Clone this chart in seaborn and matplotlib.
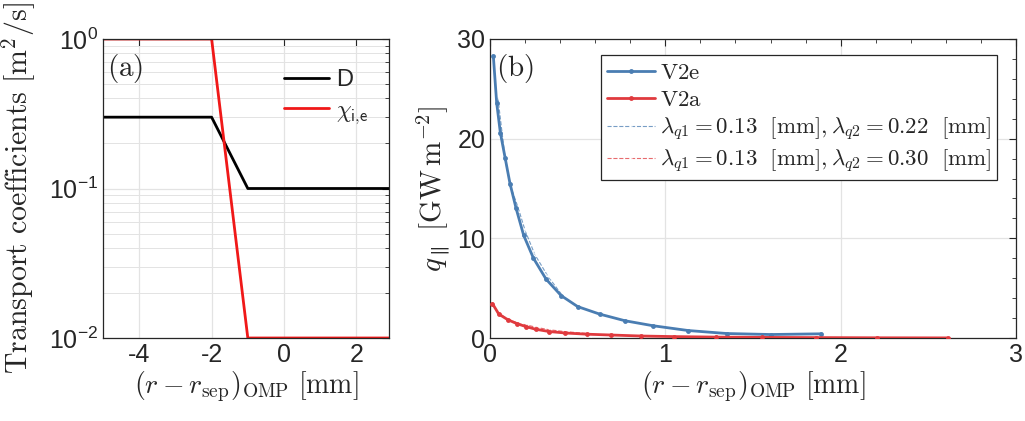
import numpy as np
import pandas as pd
import matplotlib
matplotlib.use("Agg")
import matplotlib.pyplot as plt
import seaborn as sns
from matplotlib.ticker import MultipleLocator, LogLocator, NullFormatter

# panel (a): transport coefficient profiles
r_a = [-5, -2, -1, 2.9]
D_vals = [0.3, 0.3, 0.1, 0.1]
chi_vals = [1.0, 1.0, 0.01, 0.01]

# panel (b): parallel heat flux profiles
x_v2e = [0.019, 0.038, 0.059, 0.086, 0.114, 0.149, 0.192, 0.248, 0.32, 0.406,
         0.50, 0.625, 0.77, 0.93, 1.13, 1.35, 1.6, 1.89]
q_v2e = [28.3, 23.6, 20.6, 18.1, 15.5, 13.0, 10.3, 8.0, 5.9, 4.25,
         3.15, 2.4, 1.73, 1.23, 0.75, 0.45, 0.35, 0.42]
x_v2a = [0.014, 0.05, 0.1, 0.152, 0.204, 0.26, 0.337, 0.43, 0.555, 0.69,
         0.86, 1.05, 1.29, 1.55, 1.86, 2.21, 2.61]
q_v2a = [3.45, 2.4, 1.85, 1.45, 1.15, 0.88, 0.65, 0.5, 0.38, 0.3,
         0.2, 0.14, 0.09, 0.06, 0.04, 0.02, 0.01]

# two-exponential fits (x markers)
x_fit_e = [0.045, 0.09, 0.12, 0.16, 0.2, 0.255, 0.33, 0.42]
q_fit_e = [24.1, 17.5, 15.1, 13.1, 10.8, 8.4, 6.2, 4.1]
x_fit_a = [0.04, 0.08, 0.12, 0.17, 0.21, 0.27, 0.34, 0.44, 0.56]
q_fit_a = [2.6, 2.15, 1.75, 1.45, 1.3, 1.05, 0.82, 0.62, 0.45]

labels_b = [r'$\mathrm{V2e}$', r'$\mathrm{V2a}$',
            r'$\lambda_{q1} = \mathsf{0.13}\ \ [\mathrm{mm}], \lambda_{q2} = \mathsf{0.22}\ \ [\mathrm{mm}]$',
            r'$\lambda_{q1} = \mathsf{0.13}\ \ [\mathrm{mm}], \lambda_{q2} = \mathsf{0.30}\ \ [\mathrm{mm}]$']

sns.set_style("white")
plt.rcParams['font.family'] = ['Liberation Sans', 'DejaVu Sans']
plt.rcParams['mathtext.fontset'] = 'cm'
plt.rcParams['axes.unicode_minus'] = False
plt.rcParams['axes.edgecolor'] = '#262626'
plt.rcParams['xtick.color'] = '#262626'
plt.rcParams['ytick.color'] = '#262626'

blue = '#4a7db2'
red_b = '#e03a3e'
grid_c = '#e3e3e3'
xlab = r'$(r-r_{\mathrm{sep}})_{\mathrm{OMP}}\ [\mathrm{mm}]$'

fig = plt.figure(figsize=(10.25, 4.21), dpi=100)
ax1 = fig.add_axes([103/1025, 83/421, 286/1025, 299/421])
ax2 = fig.add_axes([490/1025, 83/421, 526/1025, 299/421])

# ---- panel (a)
sns.lineplot(x=r_a, y=D_vals, ax=ax1, color='black', lw=2, label='D',
             estimator=None, sort=False)
sns.lineplot(x=r_a, y=chi_vals, ax=ax1, color='#f01818', lw=2,
             label=r'$\chi_{\mathsf{i{,}e}}$', estimator=None, sort=False)
ax1.set_yscale('log')
ax1.set_xlim(-5, 2.9)
ax1.set_ylim(0.01, 1)
ax1.set_xticks([-4, -2, 0, 2])
ax1.yaxis.set_major_locator(LogLocator(base=10))
ax1.yaxis.set_minor_locator(LogLocator(base=10, subs=np.arange(2, 10)))
ax1.yaxis.set_minor_formatter(NullFormatter())
ax1.grid(True, which='major', color=grid_c, lw=0.9)
ax1.grid(True, which='minor', axis='y', color=grid_c, lw=0.7)
ax1.set_ylabel(r'$\mathrm{Transport\ coefficients\ [m^2/s]}$', fontsize=21.5, labelpad=8)
ax1.set_xlabel(xlab, fontsize=20, labelpad=2)
ax1.text(0.015, 0.955, r'$\mathrm{(a)}$', transform=ax1.transAxes, fontsize=21,
         va='top', ha='left')
ax1.legend(loc='upper right', frameon=False, fontsize=17, handlelength=1.9,
           handletextpad=0.3, labelspacing=0.35, borderaxespad=0.5,
           bbox_to_anchor=(1.0, 0.97))

# ---- panel (b)
sns.lineplot(x=x_v2e, y=q_v2e, ax=ax2, color=blue, lw=2, marker='o', markersize=3.5,
             markeredgewidth=0, label=labels_b[0], estimator=None, sort=False, zorder=4)
sns.lineplot(x=x_v2a, y=q_v2a, ax=ax2, color=red_b, lw=2, marker='o', markersize=3.5,
             markeredgewidth=0, label=labels_b[1], estimator=None, sort=False, zorder=4)
sns.lineplot(x=x_fit_e, y=q_fit_e, ax=ax2, color=blue, lw=0.8, ls='--', marker='x',
             markersize=5, alpha=0.75, label=labels_b[2], estimator=None, sort=False,
             zorder=3)
sns.lineplot(x=x_fit_a, y=q_fit_a, ax=ax2, color=red_b, lw=0.8, ls='--', marker='x',
             markersize=5, alpha=0.75, label=labels_b[3], estimator=None, sort=False,
             zorder=3)
ax2.set_xlim(0, 3)
ax2.set_ylim(0, 30)
ax2.set_xticks([0, 1, 2, 3])
ax2.set_yticks([0, 10, 20, 30])
ax2.xaxis.set_minor_locator(MultipleLocator(0.2))
ax2.yaxis.set_minor_locator(MultipleLocator(2))
ax2.grid(True, which='major', color=grid_c, lw=0.9)
ax2.set_ylabel(r'$q_{\parallel}\ [\mathrm{GW\,m^{-2}}]$', fontsize=21, labelpad=4)
ax2.set_xlabel(xlab, fontsize=20, labelpad=2)
ax2.text(0.012, 0.955, r'$\mathrm{(b)}$', transform=ax2.transAxes, fontsize=21,
         va='top', ha='left')
leg2 = ax2.legend(loc='upper right', fontsize=16.5, handlelength=2.1, handletextpad=0.2,
                  labelspacing=0.2, borderaxespad=0.5, borderpad=0.25,
                  fancybox=False, edgecolor='#262626', framealpha=1,
                  bbox_to_anchor=(0.985, 0.985))
leg2.get_frame().set_linewidth(0.9)
leg2.set_zorder(10)

for ax in (ax1, ax2):
    ax.tick_params(which='both', direction='in', top=True, right=True, labelsize=18)
    ax.tick_params(which='major', length=5, width=0.8)
    ax.tick_params(which='minor', length=3, width=0.6)
    for s in ax.spines.values():
        s.set_linewidth(0.9)

fig.savefig('out.png', dpi=100)
